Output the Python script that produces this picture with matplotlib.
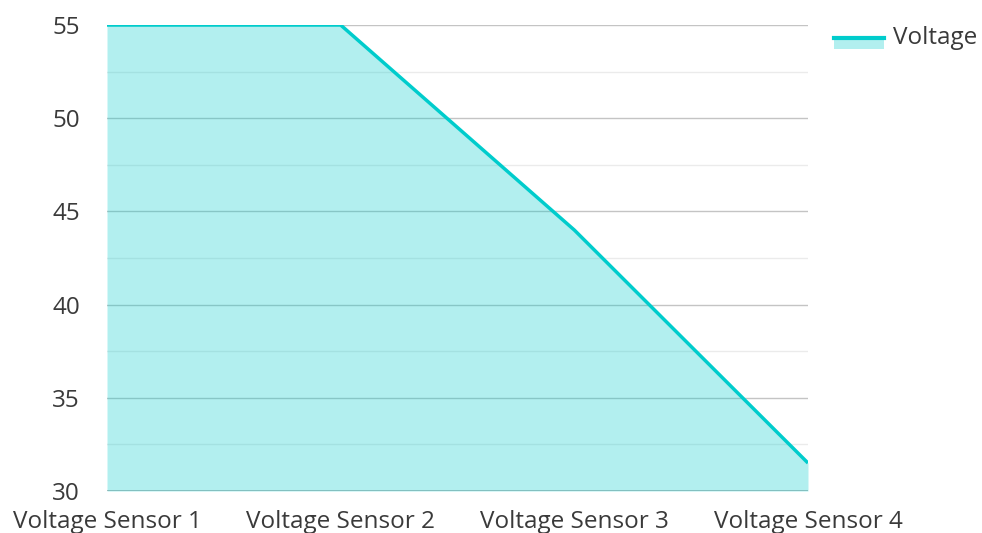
import matplotlib
matplotlib.use("Agg")
import matplotlib.pyplot as plt
from matplotlib.lines import Line2D
from matplotlib.patches import Rectangle

categories = ["Voltage Sensor 1", "Voltage Sensor 2", "Voltage Sensor 3", "Voltage Sensor 4"]
voltage = [55, 55, 44, 31.5]
series_name = "Voltage"
yticks = [30, 35, 40, 45, 50, 55]
yminor = [32.5, 37.5, 42.5, 47.5, 52.5]

plt.rcParams['font.family'] = ['Open Sans', 'DejaVu Sans']
line_color = "#00cccc"
text_color = "#3a3a3a"
FS = 17.5

fig = plt.figure(figsize=(9.82, 5.33), dpi=100)
ax = fig.add_axes([107/982, 1 - 491/533, (808-107)/982, (491-25)/533])

x = list(range(len(categories)))
for v in yticks[1:]:
    ax.axhline(v, color="#c4c4c4", linewidth=1, zorder=1)
for v in yminor:
    ax.axhline(v, color="#ebebeb", linewidth=1, zorder=1)
ax.axhline(30, color="#b4b4b4", linewidth=2, zorder=1)

ax.fill_between(x, voltage, 30, color=line_color, alpha=0.3, linewidth=0, zorder=2)
ax.plot(x, voltage, color=line_color, linewidth=2.5, zorder=3, solid_capstyle='butt')

ax.set_xlim(0, len(categories) - 1)
ax.set_ylim(30, 55)
ax.set_yticks(yticks)
ax.set_xticks(x)
ax.set_xticklabels(categories)
ax.tick_params(axis='both', length=0, labelsize=FS, labelcolor=text_color)
ax.tick_params(axis='y', pad=19.5)
ax.tick_params(axis='x', pad=13.5)
for s in ax.spines.values():
    s.set_visible(False)

# legend
W, H = 982, 533
fig.add_artist(Rectangle((834/W, 1 - 49/H), 50/W, 12/H, transform=fig.transFigure,
                         facecolor=line_color, alpha=0.3, edgecolor='none'))
fig.add_artist(Line2D([834/W, 884/W], [1 - 38/H, 1 - 38/H], transform=fig.transFigure,
                      color=line_color, linewidth=3))
fig.text(893/W, 1 - 38/H, series_name, fontsize=FS, color=text_color, va='center', ha='left')

fig.savefig("out.png", dpi=100)
